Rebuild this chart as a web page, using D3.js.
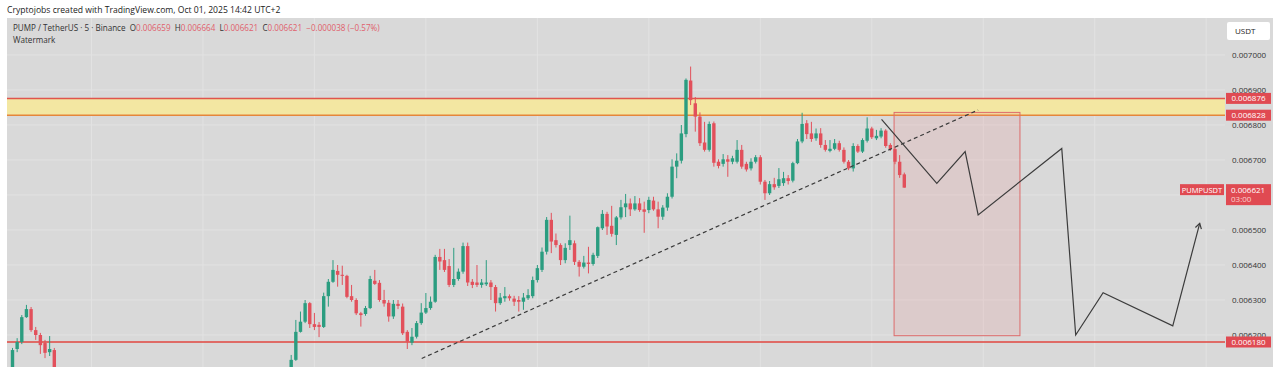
<!DOCTYPE html>
<html lang="en">
  <head>
    <meta charset="utf-8" />
    <title>PUMP / TetherUS 5m</title>
    <script type="text/javascript" src="https://d3js.org/d3.v7.min.js"></script>
    <style>
      body { margin: 0; background: #fff; }
      svg { display: block; font-family: "Open Sans", sans-serif; }
    </style>
  </head>
  <body>
    <div id="graph"></div>

    <script type="text/javascript">
      /***************
       * data (prices in millionths of USDT: 6659 = 0.006659)
       ***************/

      // bars 0..9, [open, high, low, close]
      const firstStart = 0;
      const firstBars = [
        [6094, 6163, 6086, 6157], [6160, 6191, 6151, 6180], [6180, 6257, 6174, 6251],
        [6251, 6286, 6249, 6274], [6274, 6280, 6209, 6214], [6214, 6223, 6186, 6200],
        [6200, 6206, 6146, 6171], [6177, 6186, 6134, 6149], [6151, 6197, 6140, 6160],
        [6157, 6163, 6071, 6100]
      ];

      // bars 60..192 (bars in between are below the visible range)
      const mainStart = 60;
      const mainBars = [
        [6086, 6143, 6071, 6129], [6129, 6243, 6126, 6209], [6209, 6267, 6207, 6238],
        [6238, 6300, 6234, 6291], [6291, 6294, 6220, 6231], [6231, 6263, 6214, 6223],
        [6229, 6237, 6194, 6223], [6223, 6321, 6220, 6311], [6311, 6360, 6281, 6352],
        [6352, 6414, 6349, 6386], [6383, 6400, 6338, 6372], [6372, 6398, 6343, 6369],
        [6369, 6372, 6305, 6309], [6311, 6343, 6295, 6300], [6300, 6305, 6257, 6262],
        [6262, 6266, 6224, 6257], [6260, 6283, 6255, 6277], [6277, 6369, 6274, 6360],
        [6355, 6386, 6343, 6346], [6349, 6357, 6295, 6300], [6300, 6329, 6281, 6290],
        [6292, 6300, 6238, 6253], [6253, 6300, 6246, 6289], [6289, 6300, 6274, 6283],
        [6281, 6290, 6200, 6205], [6209, 6214, 6160, 6181], [6178, 6220, 6171, 6195],
        [6195, 6240, 6190, 6234], [6234, 6291, 6229, 6264], [6264, 6320, 6260, 6277],
        [6277, 6310, 6272, 6295], [6295, 6429, 6292, 6423], [6423, 6446, 6386, 6410],
        [6414, 6446, 6380, 6386], [6397, 6417, 6337, 6343], [6343, 6449, 6337, 6360],
        [6360, 6390, 6355, 6381], [6381, 6464, 6375, 6454], [6454, 6464, 6340, 6350],
        [6352, 6360, 6334, 6343], [6350, 6400, 6337, 6343], [6343, 6360, 6335, 6350],
        [6345, 6414, 6340, 6350], [6350, 6357, 6300, 6337], [6337, 6343, 6267, 6291],
        [6291, 6320, 6286, 6307], [6305, 6337, 6295, 6311], [6311, 6316, 6298, 6305],
        [6304, 6312, 6283, 6295], [6300, 6311, 6267, 6295], [6295, 6320, 6272, 6307],
        [6305, 6331, 6300, 6314], [6311, 6367, 6305, 6357], [6357, 6400, 6350, 6391],
        [6386, 6450, 6380, 6438], [6438, 6537, 6430, 6529], [6529, 6549, 6434, 6467],
        [6471, 6490, 6450, 6457], [6457, 6462, 6400, 6414], [6414, 6462, 6405, 6449],
        [6457, 6541, 6443, 6471], [6462, 6470, 6400, 6409], [6409, 6414, 6367, 6395],
        [6395, 6426, 6390, 6407], [6407, 6452, 6376, 6403], [6403, 6435, 6398, 6429],
        [6426, 6510, 6420, 6508], [6505, 6557, 6500, 6546], [6546, 6552, 6486, 6510],
        [6512, 6569, 6481, 6489], [6486, 6540, 6457, 6536], [6536, 6586, 6530, 6565],
        [6565, 6603, 6537, 6576], [6576, 6590, 6540, 6559], [6559, 6597, 6555, 6576],
        [6576, 6591, 6552, 6557], [6559, 6581, 6492, 6552], [6557, 6595, 6548, 6586],
        [6584, 6595, 6555, 6559], [6559, 6581, 6505, 6538], [6538, 6571, 6529, 6564],
        [6564, 6605, 6555, 6595], [6595, 6702, 6590, 6681], [6681, 6719, 6648, 6698],
        [6698, 6800, 6690, 6776], [6774, 6933, 6765, 6929], [6927, 6967, 6857, 6871],
        [6862, 6880, 6781, 6824], [6824, 6836, 6740, 6748], [6750, 6809, 6724, 6729],
        [6729, 6810, 6724, 6803], [6805, 6810, 6681, 6692], [6695, 6702, 6676, 6683],
        [6689, 6717, 6681, 6702], [6702, 6714, 6652, 6695], [6695, 6712, 6688, 6705],
        [6695, 6757, 6690, 6729], [6729, 6743, 6675, 6681], [6689, 6695, 6667, 6673],
        [6676, 6705, 6670, 6695], [6695, 6714, 6690, 6708], [6708, 6714, 6630, 6638],
        [6638, 6643, 6586, 6605], [6605, 6640, 6600, 6631], [6631, 6649, 6615, 6622],
        [6626, 6677, 6620, 6645], [6634, 6666, 6626, 6648], [6648, 6657, 6630, 6640],
        [6641, 6695, 6636, 6691], [6691, 6760, 6688, 6753], [6753, 6835, 6748, 6803],
        [6805, 6814, 6760, 6774], [6776, 6809, 6752, 6760], [6762, 6790, 6755, 6776],
        [6776, 6791, 6735, 6743], [6743, 6757, 6724, 6729], [6726, 6757, 6722, 6732],
        [6732, 6760, 6728, 6748], [6748, 6755, 6724, 6729], [6729, 6736, 6690, 6695],
        [6695, 6700, 6671, 6676], [6676, 6748, 6667, 6740], [6740, 6745, 6720, 6724],
        [6724, 6762, 6720, 6757], [6755, 6822, 6750, 6790], [6790, 6795, 6760, 6765],
        [6762, 6786, 6757, 6769], [6767, 6791, 6762, 6784], [6784, 6788, 6735, 6740],
        [6743, 6748, 6726, 6731], [6731, 6736, 6688, 6695], [6695, 6714, 6649, 6657],
        [6659, 6664, 6621, 6621]
      ];

      const priceTicks = [6200, 6300, 6400, 6500, 6700, 6800, 6900, 7000];
      const gridBars = [17, 41, 65, 89, 113, 137, 161, 185, 209, 233, 257];

      const zoneTop = 6876;
      const zoneBottom = 6828;
      const supportLevel = 6180;
      const lastPrice = 6621;

      // drawings: [bar, price]
      const trendLine = [[88.1, 6133], [207.9, 6843]];
      const boxBars = [189.8, 216.9];
      const boxPrices = [6198, 6836];
      const forecastPath = [
        [187.1, 6816], [199.0, 6633], [205.1, 6724], [207.9, 6543], [225.9, 6733],
        [228.9, 6200], [234.8, 6321], [249.8, 6226], [255.6, 6519]
      ];

      const titleText = "Cryptojobs created with TradingView.com, Oct 01, 2025 14:42 UTC+2";
      const legendParts = [
        ["PUMP / TetherUS · 5 · Binance  ", "#333"],
        ["O", "#333"], ["0.006659  ", "#e0606c"],
        ["H", "#333"], ["0.006664  ", "#e0606c"],
        ["L", "#333"], ["0.006621  ", "#e0606c"],
        ["C", "#333"], ["0.006621  ", "#e0606c"],
        ["−0.000038 (−0.57%)", "#e0606c"]
      ];

      /***************
       * svg
       ***************/
      const width = 1278;
      const height = 367;
      const plot = { left: 7, right: 1225, top: 18, bottom: 367 };
      const axisLeft = 1226;

      const upColor = "#2b9d80";
      const downColor = "#e2505b";
      const labelRed = "#e04a52";

      const svg = d3.select("div#graph").append("svg")
        .attr("width", width).attr("height", height);

      const x = d3.scaleLinear().domain([0, 192]).range([12.5, 904.3]);
      const y = d3.scaleLinear().domain([6200, 7000]).range([335, 55]);
      const fmt = v => (v / 1e6).toFixed(6);

      // background
      svg.append("rect").attr("width", width).attr("height", height).attr("fill", "#fff");
      svg.append("rect")
        .attr("x", plot.left).attr("y", plot.top)
        .attr("width", 1273 - plot.left).attr("height", height - plot.top)
        .attr("fill", "#d9d9d9");

      svg.append("defs").append("clipPath").attr("id", "plotclip")
        .append("rect")
        .attr("x", plot.left).attr("y", plot.top)
        .attr("width", plot.right - plot.left).attr("height", plot.bottom - plot.top);

      const g = svg.append("g").attr("clip-path", "url(#plotclip)");

      // grid
      g.selectAll("line.hgrid").data(y.ticks(10)).enter().append("line")
        .attr("x1", plot.left).attr("x2", plot.right)
        .attr("y1", d => y(d)).attr("y2", d => y(d))
        .attr("stroke", "#e2e2e2").attr("stroke-width", 1);
      g.selectAll("line.vgrid").data(gridBars).enter().append("line")
        .attr("x1", d => x(d)).attr("x2", d => x(d))
        .attr("y1", plot.top).attr("y2", plot.bottom)
        .attr("stroke", "#e2e2e2").attr("stroke-width", 1);

      // supply zone
      g.append("rect")
        .attr("x", plot.left).attr("width", plot.right - plot.left)
        .attr("y", y(zoneTop)).attr("height", y(zoneBottom) - y(zoneTop))
        .attr("fill", "#f3e7a2");
      g.append("line").attr("x1", plot.left).attr("x2", plot.right)
        .attr("y1", y(zoneTop)).attr("y2", y(zoneTop))
        .attr("stroke", "#e0554c").attr("stroke-width", 1.5);
      g.append("line").attr("x1", plot.left).attr("x2", plot.right)
        .attr("y1", y(zoneBottom)).attr("y2", y(zoneBottom))
        .attr("stroke", "#e5863a").attr("stroke-width", 1.5);

      // support
      g.append("line").attr("x1", plot.left).attr("x2", plot.right)
        .attr("y1", y(supportLevel)).attr("y2", y(supportLevel))
        .attr("stroke", "#e0463f").attr("stroke-width", 1.5);

      // target box
      g.append("rect")
        .attr("x", x(boxBars[0])).attr("width", x(boxBars[1]) - x(boxBars[0]))
        .attr("y", y(boxPrices[1])).attr("height", y(boxPrices[0]) - y(boxPrices[1]))
        .attr("fill", "rgba(236, 130, 130, 0.16)")
        .attr("stroke", "#dd6b6b").attr("stroke-width", 1);

      // candles
      const candles = firstBars.map((d, i) => ({ i: firstStart + i, o: d[0], h: d[1], l: d[2], c: d[3] }))
        .concat(mainBars.map((d, i) => ({ i: mainStart + i, o: d[0], h: d[1], l: d[2], c: d[3] })));

      const cg = g.selectAll("g.candle").data(candles).enter().append("g").attr("class", "candle");
      cg.append("line")
        .attr("x1", d => x(d.i)).attr("x2", d => x(d.i))
        .attr("y1", d => y(d.h)).attr("y2", d => y(d.l))
        .attr("stroke", d => d.c >= d.o ? upColor : downColor).attr("stroke-width", 1);
      cg.append("rect")
        .attr("x", d => x(d.i) - 1.7).attr("width", 3.4)
        .attr("y", d => y(Math.max(d.o, d.c)))
        .attr("height", d => Math.max(1, Math.abs(y(d.o) - y(d.c))))
        .attr("fill", d => d.c >= d.o ? upColor : downColor);

      // trend line
      g.append("line")
        .attr("x1", x(trendLine[0][0])).attr("y1", y(trendLine[0][1]))
        .attr("x2", x(trendLine[1][0])).attr("y2", y(trendLine[1][1]))
        .attr("stroke", "#3a3a3a").attr("stroke-width", 1.2)
        .attr("stroke-dasharray", "4,3");

      // forecast path
      const line = d3.line().x(d => x(d[0])).y(d => y(d[1]));
      g.append("path").attr("d", line(forecastPath))
        .attr("fill", "none").attr("stroke", "#3c3c3c").attr("stroke-width", 1.2);
      const pEnd = forecastPath[forecastPath.length - 1];
      const pPrev = forecastPath[forecastPath.length - 2];
      const ang = Math.atan2(y(pEnd[1]) - y(pPrev[1]), x(pEnd[0]) - x(pPrev[0]));
      const ex = x(pEnd[0]), ey = y(pEnd[1]);
      const head = [ang + 2.6, ang - 2.6].map(a => [ex + 6 * Math.cos(a), ey + 6 * Math.sin(a)]);
      g.append("path")
        .attr("d", `M${head[0]}L${ex},${ey}L${head[1]}`)
        .attr("fill", "none").attr("stroke", "#3c3c3c").attr("stroke-width", 1.2);

      /***************
       * price axis
       ***************/
      const axis = svg.append("g")
        .attr("transform", `translate(${axisLeft},0)`)
        .call(d3.axisRight(y).tickValues(priceTicks).tickSize(0).tickPadding(6).tickFormat(fmt));
      axis.select(".domain").remove();
      axis.selectAll("text").attr("font-size", 8).attr("fill", "#333")
        .attr("font-family", "Open Sans, sans-serif");

      // USDT box
      svg.append("rect").attr("x", 1227).attr("y", 22).attr("width", 43).attr("height", 18)
        .attr("rx", 2).attr("fill", "#fff");
      svg.append("text").attr("x", 1235).attr("y", 34).attr("font-size", 8).attr("fill", "#222")
        .text("USDT");

      // level labels
      function levelLabel(price, color) {
        svg.append("rect").attr("x", axisLeft).attr("y", y(price) - 5.5)
          .attr("width", 45).attr("height", 11).attr("fill", color);
        svg.append("text").attr("x", axisLeft + 22.5).attr("y", y(price) + 3)
          .attr("text-anchor", "middle").attr("font-size", 8).attr("fill", "#fff")
          .text(fmt(price));
      }
      levelLabel(zoneTop, labelRed);
      levelLabel(zoneBottom, labelRed);
      levelLabel(supportLevel, labelRed);

      // last price label
      const ly = y(lastPrice);
      svg.append("rect").attr("x", 1180).attr("y", ly - 3.5).attr("width", 44).attr("height", 11)
        .attr("fill", labelRed);
      svg.append("text").attr("x", 1202).attr("y", ly + 5).attr("text-anchor", "middle")
        .attr("font-size", 7.5).attr("fill", "#fff").text("PUMPUSDT");
      svg.append("rect").attr("x", axisLeft).attr("y", ly - 3.5).attr("width", 45).attr("height", 21)
        .attr("fill", labelRed);
      svg.append("text").attr("x", axisLeft + 5).attr("y", ly + 5).attr("font-size", 8)
        .attr("fill", "#fff").text(fmt(lastPrice));
      svg.append("text").attr("x", axisLeft + 5).attr("y", ly + 14).attr("font-size", 8)
        .attr("fill", "#fbd0d0").text("03:00");

      /***************
       * texts
       ***************/
      svg.append("text").attr("x", 7).attr("y", 13).attr("font-size", 8.6).attr("fill", "#222")
        .text(titleText);

      const legend = svg.append("text").attr("x", 13).attr("y", 31).attr("font-size", 8.1)
        .attr("xml:space", "preserve").style("white-space", "pre");
      legend.selectAll("tspan").data(legendParts).enter().append("tspan")
        .attr("fill", d => d[1]).text(d => d[0]);
      svg.append("text").attr("x", 13).attr("y", 43).attr("font-size", 8.1).attr("fill", "#333")
        .text("Watermark");
    </script>
  </body>
</html>
